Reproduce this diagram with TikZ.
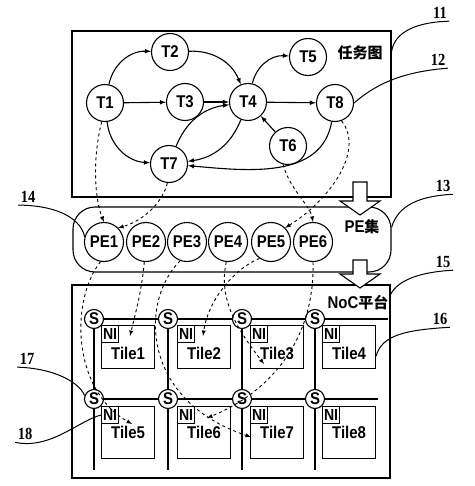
\documentclass[tikz,border=0pt]{standalone}
\usepackage{fontspec}
\setmainfont{Liberation Sans}[FakeStretch=0.88]
\newfontfamily\cjk{Noto Sans CJK SC}
\newfontfamily\numfont{Liberation Serif}[FakeStretch=0.85]
\usetikzlibrary{calc}

\begin{document}
\begin{tikzpicture}[x=1pt, y=-1pt, line width=1.1pt, >=latex,
        every node/.style={font=\fontsize{17}{17}\selectfont\bfseries},
        tasknode/.style={circle, draw, minimum size=37pt, inner sep=0pt},
        penode/.style={circle, draw, minimum size=39pt, inner sep=0pt},
        swnode/.style={circle, draw, fill=white, minimum size=19pt, inner sep=0pt},
        tilebox/.style={draw, fill=white, anchor=north west, minimum width=53pt, inner sep=0pt},
        nibox/.style={draw, anchor=north west, minimum width=17pt, minimum height=17pt, inner sep=0pt,
            font=\fontsize{16}{16}\selectfont\bfseries},
        mapping/.style={->, dash pattern=on 3pt off 3pt, line width=0.9pt},
        callout/.style={line width=1pt},
        numlabel/.style={font=\fontsize{17}{17}\selectfont\bfseries\numfont, inner sep=2pt}]
    \useasboundingbox (0, 0) rectangle (474, 486);

    % the three layers
    \node [draw, minimum width=319pt, minimum height=166pt, inner sep=0pt] at (231.5, 114) (taskbox) {};
    \node [draw, rounded corners=22pt, minimum width=318pt, minimum height=65pt, inner sep=0pt] at (232, 239.5) (pebox) {};
    \node [draw, minimum width=318pt, minimum height=193pt, inner sep=0pt] at (231, 381.5) (nocbox) {};

    \node at (360, 53) (tasklbl) {\cjk\fontsize{15}{15}\selectfont 任务图};
    \node at (362, 227) (pelbl) {PE\cjk\fontsize{15}{15}\selectfont 集};
    \node at (358, 303) (noclbl) {NoC\cjk\fontsize{15}{15}\selectfont 平台};

    % task graph
    \foreach \n/\x/\y in {1/105/103, 2/170/52, 3/185/102, 4/248/102, 5/308/57, 6/288/146, 7/169/164, 8/335/103}
        \node [tasknode] at (\x, \y) (T\n) {T\n};
    \draw [->]
        (T1) edge[bend left=40] (T2)
        (T2) edge[bend left=35] (T4)
        (T1) edge (T3)
        (T3) edge (T4)
        (T1) edge[bend right=40] (T7)
        (T7) edge[bend left=30] (T4)
        (T4) edge[bend left=30] (T7)
        (T4) edge[bend left=40] (T5)
        (T4) edge (T8)
        (T6) edge (T4)
        (T8) edge[out=-100, in=-5] (T7);

    % PE set
    \foreach \n/\x in {1/104, 2/146, 3/187, 4/228, 5/271, 6/313}
        \node [penode] at (\x, 242) (PE\n) {PE\n};

    % block arrows between layers
    \draw [fill=white] (353, 182) -- (367, 182) -- (367, 201) -- (380, 201) -- (360, 215) -- (340, 201) -- (353, 201) -- cycle;
    \draw [fill=white] (353, 260) -- (367, 260) -- (367, 274) -- (380, 274) -- (360, 288) -- (340, 274) -- (353, 274) -- cycle;

    % NoC platform
    \foreach \n/\x in {1/94, 2/168, 3/242, 4/315} {
        \pgfmathtruncatemacro\m{\n+4}
        \node [swnode] at (\x, 319) (S\n) {S};
        \node [swnode] at (\x, 399) (S\m) {S};
        \coordinate (bot\n) at (\x, 470);
        \draw (S\n) -- (S\m) -- (bot\n);
    }
    \coordinate (r1end) at (388, 319);
    \coordinate (r2end) at (378, 399);
    \draw (S1) -- (S2) -- (S3) -- (S4) -- (r1end);
    \draw (S5) -- (S6) -- (S7) -- (S8) -- (r2end);

    \foreach \n/\x in {1/101, 2/177, 3/250, 4/322} {
        \node [tilebox, minimum height=43pt] at (\x, 325) (tile\n) {};
        \node [nibox] at (tile\n.north west) (ni\n) {NI};
        \node at ([yshift=-6pt]tile\n.center) (tl\n) {Tile\n};
    }
    \foreach \n/\x in {5/101, 6/177, 7/250, 8/322} {
        \node [tilebox, minimum height=52pt] at (\x, 406) (tile\n) {};
        \node [nibox] at (tile\n.north west) (ni\n) {NI};
        \node at (tile\n.center) (tl\n) {Tile\n};
    }

    % mapping task -> PE -> tile
    \coordinate (in1) at (130, 336);
    \coordinate (in2) at (203, 336);
    \coordinate (in3) at (264, 364);
    \coordinate (in5) at (132, 424);
    \coordinate (in6) at (207, 418);
    \coordinate (in7) at (251, 437);
    \draw [mapping] (T1.-100) .. controls (92, 160) and (95, 200) .. (PE1.north);
    \draw [mapping] (T7.-95) .. controls (162, 205) and (140, 222) .. (PE1.north east);
    \draw [mapping] (T6.-105) .. controls (290, 190) and (310, 205) .. (PE6.north);
    \draw [mapping] (T8.-70) .. controls (365, 150) and (330, 200) .. (PE5.north east);
    \draw [mapping] (PE1.-100) .. controls (70, 300) and (72, 390) .. (in5);
    \draw [mapping] (PE2.-95) .. controls (142, 290) and (135, 315) .. (in1);
    \draw [mapping] (PE3.-110) .. controls (140, 300) and (140, 400) .. (in7);
    \draw [mapping] (PE4.-95) .. controls (218, 300) and (238, 330) .. (in3);
    \draw [mapping] (PE5.-125) .. controls (235, 268) and (208, 300) .. (in2);
    \draw [mapping] (PE6.-90) .. controls (315, 335) and (275, 390) .. (in6);

    % reference numerals
    \node [numlabel] at (440, 13) (n11) {11};
    \node [numlabel] at (438, 60) (n12) {12};
    \node [numlabel] at (443, 186) (n13) {13};
    \node [numlabel] at (443, 262) (n15) {15};
    \node [numlabel] at (440, 319) (n16) {16};
    \node [numlabel] at (28, 197) (n14) {14};
    \node [numlabel] at (27, 359) (n17) {17};
    \node [numlabel] at (25, 434) (n18) {18};
    \draw [callout] ([yshift=-21pt]taskbox.north east) .. controls (395, 30) and (420, 22) .. (n11.south east);
    \draw [callout] (T8.east) .. controls (375, 85) and (400, 72) .. (n12.south east);
    \draw [callout] ([yshift=12pt]pebox.east) .. controls (398, 205) and (420, 196) .. (n13.south east);
    \draw [callout] ([yshift=-10pt]nocbox.north east) .. controls (398, 280) and (420, 272) .. (n15.south east);
    \draw [callout] ([yshift=-9pt]tile4.east) .. controls (382, 335) and (405, 330) .. (n16.south east);
    \draw [callout] (n14.south west) .. controls (50, 205) and (80, 215) .. (PE1.165);
    \draw [callout] (n17.south west) .. controls (50, 368) and (78, 380) .. (S5.160);
    \draw [callout] (n18.south west) .. controls (50, 450) and (80, 420) .. (ni5.west);
\end{tikzpicture}
\end{document}
